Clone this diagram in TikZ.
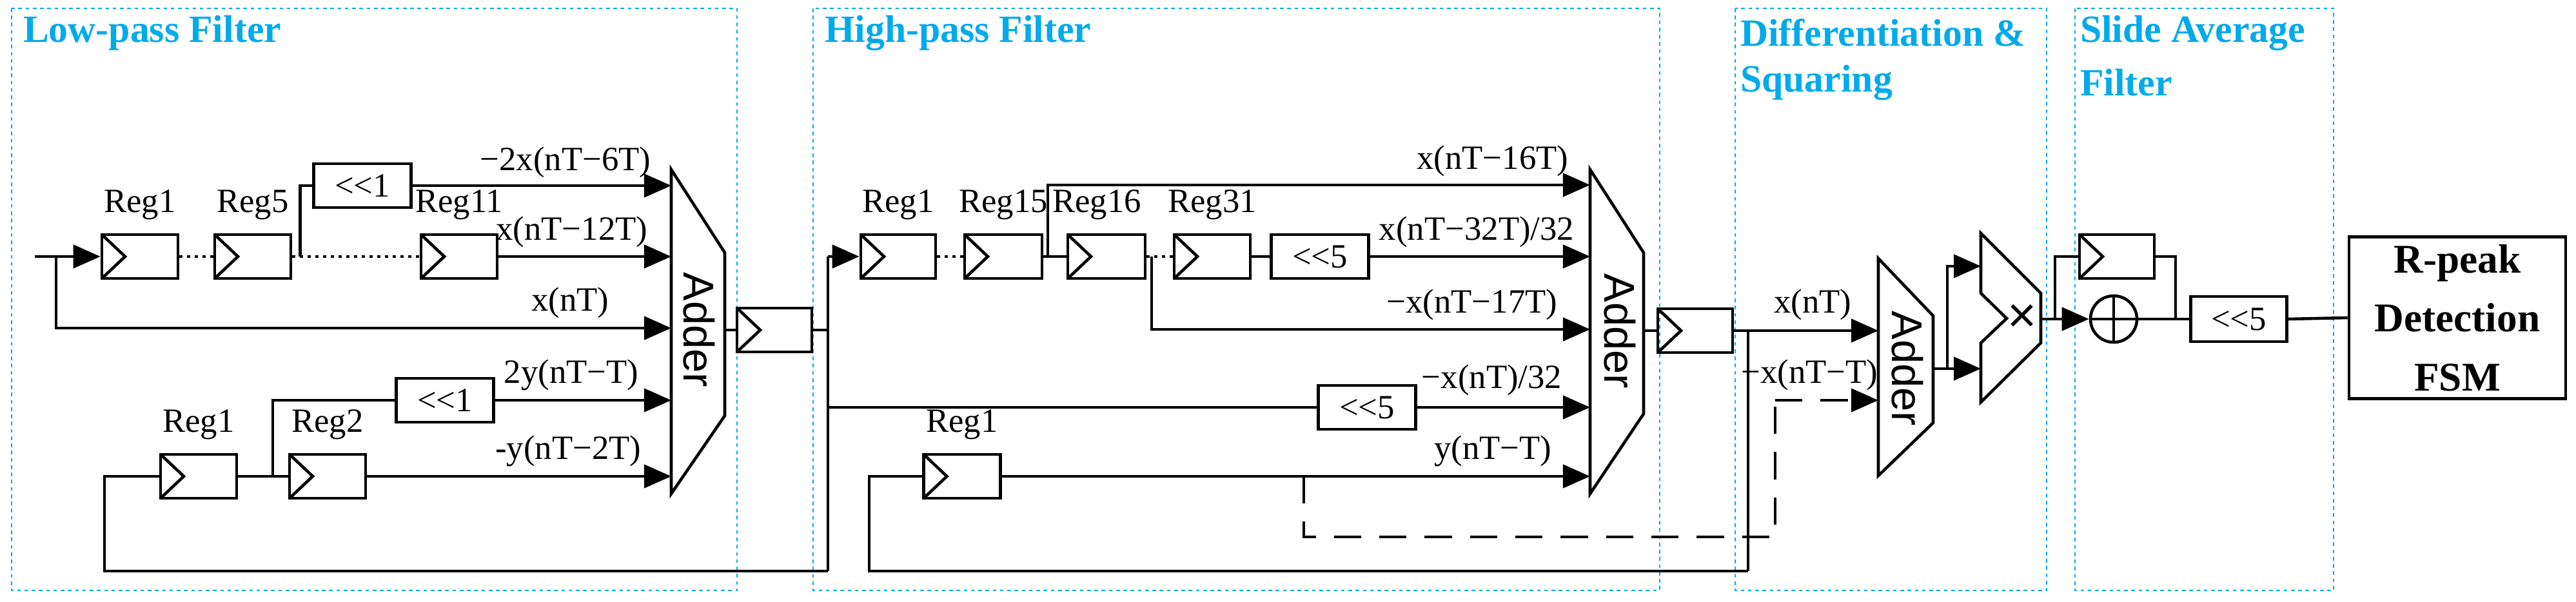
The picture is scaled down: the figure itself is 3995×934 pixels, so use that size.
\documentclass[tikz,border=0pt]{standalone}
\usepackage{fontspec}
\setmainfont{Liberation Serif}
\newfontfamily\sansf{Liberation Sans}
\usetikzlibrary{arrows.meta,calc}
\definecolor{boxblue}{RGB}{0,170,235}
\newcommand{\shl}[1]{<\kern0pt<\kern0pt#1}
\begin{document}
\begin{tikzpicture}[x=0.01cm,y=-0.01cm,line width=1.3pt,
  every node/.style={font=\fontsize{15}{17}\selectfont},
  reg/.style={draw,rectangle,minimum width=1.18cm,minimum height=0.68cm,inner sep=0pt,
    path picture={\draw (path picture bounding box.north west) -- ([xshift=0.36cm]path picture bounding box.west) -- (path picture bounding box.south west);}},
  shb/.style={draw,rectangle,minimum width=1.51cm,minimum height=0.68cm,inner sep=0pt},
  arr/.style={-{Triangle[length=0.42cm,width=0.36cm]}},
  dots/.style={dotted,line width=1.4pt},
  dsh/.style={dash pattern=on 12pt off 8pt},
  region/.style={draw=boxblue,line width=0.8pt,dash pattern=on 1.6pt off 1.6pt},
  ttl/.style={text=boxblue,font=\fontsize{17}{21}\selectfont\bfseries,anchor=west,align=left},
  lab/.style={anchor=south east,inner sep=1pt},
  addlab/.style={font=\sansf\fontsize{19}{21}\selectfont,rotate=-90}]
\useasboundingbox (0,0) rectangle (3995,934);
% regions
\draw[region] (18,13) rectangle (1143,916);
\draw[region] (1261,13) rectangle (2574,916);
\draw[region] (2691,13) rectangle (3174,916);
\draw[region] (3218,13) rectangle (3619,916);
\node[ttl] (t1) at (22,51) {Low-pass Filter};
\node[ttl] (t2) at (1265,51) {High-pass Filter};
\node[ttl] (t3) at (2685,51) {Differentiation \&};
\node[ttl] (t3b) at (2685,128) {Squaring};
\node[ttl] (t4) at (3212,51) {Slide Average};
\node[ttl] (t4b) at (3212,128) {Filter};
% ===== Low-pass =====
\draw (1041,263) -- (1124,392) -- (1124,645) -- (1041,766) -- cycle;
\node[addlab] (add1) at (1084,512) {Adder};
\node[reg] (l1) at (217,398) {};
\node[above=2pt] at (l1.north) {Reg1};
\node[reg] (l5) at (392,398) {};
\node[above=2pt] at (l5.north) {Reg5};
\node[reg] (l11) at (712,398) {};
\node[above=2pt] at (l11.north) {Reg11};
\node[shb] (s1a) at (562,288) {\shl{1}};
\node[reg] (lb1) at (308,739) {};
\node[above=2pt] at (lb1.north) {Reg1};
\node[reg] (lb2) at (508,739) {};
\node[above=2pt] at (lb2.north) {Reg2};
\node[shb] (s1b) at (690,621) {\shl{1}};
\node[reg,minimum width=1.16cm] (lo) at (1201,512) {};
\coordinate (in) at (54,398);
\coordinate (inb) at (87,398);
\draw[arr] (in) -- (l1.west);
\draw[dots] (l1.east) -- (l5.west);
\draw[dots] (l5.east) -- (l11.west);
\draw (l5.east) ++(12,0) coordinate (b5) -- (b5 |- s1a) -- (s1a.west);
\draw[arr] (s1a.east) -- (1041,288);
\node[lab] at (1015,282) {−2x(nT−6T)};
\draw[arr] (l11.east) -- (1041,398);
\node[lab] at (1010,390) {x(nT−12T)};
\draw[arr] (inb) -- (87,509) -- (1041,509);
\node[lab] at (950,500) {x(nT)};
\draw (lb1.east) -- (lb2.west);
\draw (423,739) -- (423,621) -- (s1b.west);
\draw[arr] (s1b.east) -- (1041,621);
\node[lab] at (996,612) {2y(nT−T)};
\draw[arr] (lb2.east) -- (1041,739);
\node[lab] at (1000,730) {-y(nT−2T)};
\draw (1124,512) -- (lo.west);
% feedback LP
\draw (lb1.west) -- (162,739) -- (162,886) -- (1284,886);
% ===== High-pass =====
\draw (2466,263) -- (2549,392) -- (2549,642) -- (2466,766) -- cycle;
\node[addlab] (add2) at (2512,514) {Adder};
\node[reg,minimum width=1.16cm] (h1) at (1393,398) {};
\node[above=2pt] at (h1.north) {Reg1};
\node[reg,minimum width=1.2cm] (h15) at (1556,398) {};
\node[above=2pt] at (h15.north) {Reg15};
\node[reg,minimum width=1.2cm] (h16) at (1716,398) {};
\node[above=2pt] at ([xshift=-0.15cm]h16.north) {Reg16};
\node[reg,minimum width=1.18cm] (h31) at (1880,398) {};
\node[above=2pt] at (h31.north) {Reg31};
\node[shb] (s5a) at (2047,398) {\shl{5}};
\node[shb] (s5b) at (2120,632) {\shl{5}};
\node[reg,minimum width=1.19cm] (hb1) at (1492,739) {};
\node[above=2pt] at (hb1.north) {Reg1};
\node[reg,minimum width=1.16cm] (ho) at (2629,513) {};
\draw (lo.east) -- (1284,512);
\draw (1284,886) -- (1284,398);
\draw[arr] (1284,398) -- (h1.west);
\draw[dots] (h1.east) -- (h15.west);
\draw (h15.east) -- (h16.west);
\draw[dots] (h16.east) -- (h31.west);
\draw (h31.east) -- (s5a.west);
\draw[arr] (1625,398) -- (1625,287) -- (2466,287);
\node[lab] at (2438,280) {x(nT−16T)};
\draw[arr] (s5a.east) -- (2466,398);
\node[lab] at (2447,390) {x(nT−32T)/32};
\draw[arr] (1786,398) -- (1786,511) -- (2466,511);
\node[lab] at (2421,503) {−x(nT−17T)};
\draw (1284,632) -- (s5b.west);
\draw[arr] (s5b.east) -- (2466,632);
\node[lab] at (2428,620) {−x(nT)/32};
\draw[arr] (hb1.east) -- (2466,739);
\node[lab] at (2412,730) {y(nT−T)};
\draw (2549,513) -- (ho.west);
% feedback HP
\draw (hb1.west) -- (1348,739) -- (1348,886) -- (2711,886);
\draw[dsh] (2022,739) -- (2022,833) -- (2753,833) -- (2753,621);
% ===== Differentiation & squaring =====
\draw (2913,401) -- (2998,490) -- (2998,656) -- (2913,738) -- cycle;
\node[addlab] (add3) at (2958,572) {Adder};
\draw[arr] (ho.east) -- (2913,513);
\draw (2711,513) -- (2711,886);
\node[lab] at (2877,503) {x(nT)};
\draw[arr,dsh] (2753,621) -- (2913,621);
\node[lab] at (2918,612) {−x(nT−T)};
\draw (3072,362) -- (3165,455) -- (3165,532) -- (3072,624) -- (3072,532) -- (3112,494) -- (3072,455) -- cycle;
\node[font=\sansf\fontsize{22}{22}\selectfont] (mul) at (3136,494) {×};
\draw (2998,572) -- (3020,572);
\draw[arr] (3020,572) -- (3072,572);
\draw[arr] (3020,572) -- (3020,413) -- (3072,413);
% ===== Slide average =====
\node[draw,circle,minimum size=0.72cm,inner sep=0pt] (sum) at (3278,495) {};
\draw (sum.north) -- (sum.south) (sum.west) -- (sum.east);
\node[reg,minimum width=1.16cm] (sr) at (3283,398) {};
\node[shb,minimum width=1.49cm,minimum height=0.7cm] (s5c) at (3472,495) {\shl{5}};
\node[draw,rectangle,minimum width=3.36cm,minimum height=2.17cm,align=center,
  font=\fontsize{18}{26}\selectfont\bfseries] (fsm) at (3811,493) {R-peak\\Detection\\FSM};
\draw[arr] (3165,495) -- (sum.west);
\draw (3187,495) -- (3187,398) -- (sr.west);
\draw (sr.east) -- (3374,398) -- (3374,495);
\draw (sum.east) -- (s5c.west);
\draw (s5c.east) -- (fsm.west);
\end{tikzpicture}
\end{document}
